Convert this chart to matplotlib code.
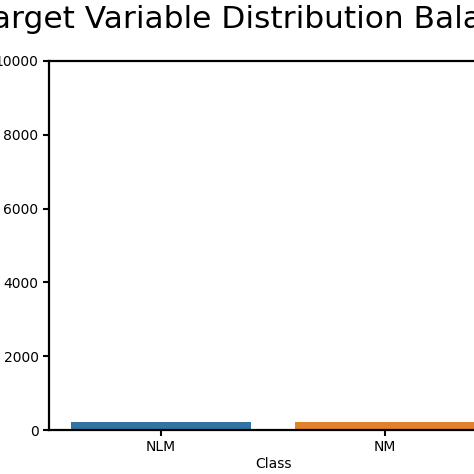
import matplotlib

matplotlib.use("Agg")

import matplotlib.pyplot as plt

# data
classes = ["NLM", "NM"]
counts = [210, 210]
bar_colors = ["#3274a1", "#e1812c"]
y_ticks = [0, 2000, 4000, 6000, 8000, 10000]

title = "Target Variable Distribution Balance"

fig = plt.figure(figsize=(4.74, 4.74), dpi=100)
# the reference is a crop: the axes run off the right edge
ax = fig.add_axes([49 / 474, 1 - 430 / 474, 448 / 474, 369 / 474])

ax.bar(range(len(classes)), counts, width=0.8, color=bar_colors)
ax.set_xlim(-0.5, len(classes) - 0.5)
ax.set_ylim(0, 10000)
ax.set_yticks(y_ticks)
ax.set_xticks(range(len(classes)))
ax.set_xticklabels(classes)
ax.set_xlabel("Class", fontsize=10, labelpad=2)
ax.tick_params(labelsize=10, width=1.5, length=4)
for spine in ax.spines.values():
    spine.set_linewidth(1.6)

# title is cropped on the left in the reference: line up "Distribution" with it
title_kw = dict(fontsize=22.5, family="DejaVu Sans", ha="left", va="baseline")
renderer = fig.canvas.get_renderer()
probe = fig.text(0, 0, "Target Variable ", **title_kw)
prefix_w = probe.get_window_extent(renderer).width
probe.remove()
fig.text((221 - prefix_w) / 474, 1 - 28 / 474, title, **title_kw)

fig.savefig("out.png", dpi=100)
